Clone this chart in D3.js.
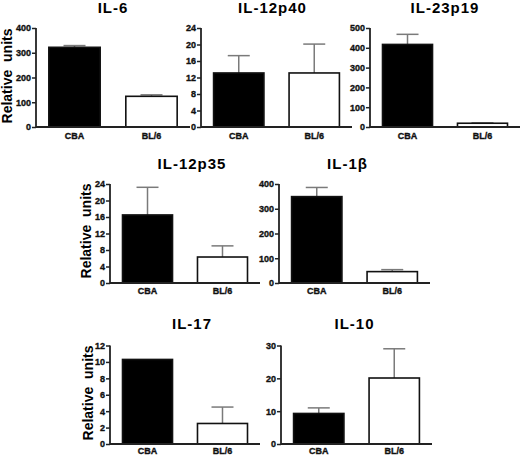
<!DOCTYPE html>
<html>
<head>
<meta charset="utf-8">
<script src="https://cdn.jsdelivr.net/npm/d3@7"></script>
<style>
	body { margin: 0; background: #fff; }
	svg { display: block; font-family: "Liberation Sans", Arial, sans-serif; }
	.title { font-size: 15px; font-weight: bold; letter-spacing: 1px; }
	.tick text { font-size: 9px; font-weight: bold; fill: #111; stroke: #111; stroke-width: 0.35px; }
	.ylabel { font-size: 14px; font-weight: bold; }
</style>
</head>
<body>
<svg id="chart" width="520" height="456"></svg>
<script>
// data
var groups = ["CBA", "BL/6"];
var titles = ["IL-6", "IL-12p40", "IL-23p19", "IL-12p35", "IL-1\u03b2", "IL-17", "IL-10"];
var cbaMean = [322, 13.1, 417, 16.5, 349, 10.3, 9.3];
var cbaErr = [7, 4.2, 51, 6.7, 37, 0, 1.7];
var bl6Mean = [124, 13.1, 19, 6.3, 46, 2.5, 20.1];
var bl6Err = [6, 7.0, 2, 2.7, 8, 2.0, 8.9];
var yMax = [400, 24, 500, 24, 400, 12, 30];
var yStep = [100, 4, 100, 4, 100, 2, 10];

// panel layout: axis left, plot width, top, bottom, gap under x axis
var panels = [
	{x: 36, w: 154, top: 28, bottom: 127, pad: 6},
	{x: 201, w: 151, top: 28, bottom: 127, pad: 6},
	{x: 370, w: 150, top: 28, bottom: 127, pad: 6},
	{x: 110, w: 150, top: 184, bottom: 283, pad: 5},
	{x: 279, w: 151, top: 184, bottom: 283, pad: 5},
	{x: 110, w: 150, top: 345.5, bottom: 444, pad: 3.5},
	{x: 281, w: 151, top: 345.5, bottom: 444, pad: 3.5}
];
var titleY = [12.5, 12.5, 12.5, 169, 169, 329, 329];
var titleDx = [0, -4, 0, 7, -7, 7, -2];
// rotated "Relative units" labels: one per row
var ylabels = [{x: 12, y: 76}, {x: 91, y: 231}, {x: 93, y: 393}];

var svg = d3.select("#chart");

for(var i = 0; i < panels.length; i++){
	var p = panels[i];
	var g = svg.append("g").attr("transform", "translate(" + p.x + ",0)");

	var x = d3.scaleBand().domain(groups).range([0, p.w]).paddingInner(0.333).paddingOuter(0.1667);
	var y = d3.scaleLinear().domain([0, yMax[i]]).range([p.bottom, p.top]);

	var means = [cbaMean[i], bl6Mean[i]];
	var errs = [cbaErr[i], bl6Err[i]];
	var rows = groups.map(function(k, j){ return {key: k, v: means[j], e: errs[j]}; });

	// error bars (upper only)
	var eb = g.selectAll(".err").data(rows.filter(function(d){ return d.e > 0; })).enter().append("g");
	eb.append("line")
		.attr("x1", function(d){ return x(d.key) + x.bandwidth() / 2; })
		.attr("x2", function(d){ return x(d.key) + x.bandwidth() / 2; })
		.attr("y1", function(d){ return y(d.v); })
		.attr("y2", function(d){ return y(d.v + d.e); })
		.attr("stroke", "#7a7a7a").attr("stroke-width", 1.5);
	eb.append("line")
		.attr("x1", function(d){ return x(d.key) + x.bandwidth() / 2 - 11; })
		.attr("x2", function(d){ return x(d.key) + x.bandwidth() / 2 + 11; })
		.attr("y1", function(d){ return y(d.v + d.e); })
		.attr("y2", function(d){ return y(d.v + d.e); })
		.attr("stroke", "#7a7a7a").attr("stroke-width", 1.5);

	g.selectAll(".bar").data(rows).enter().append("rect")
		.attr("x", function(d){ return x(d.key); })
		.attr("width", x.bandwidth())
		.attr("y", function(d){ return y(d.v); })
		.attr("height", function(d){ return y(0) - y(d.v); })
		.attr("fill", function(d, j){ return j === 0 ? "#000" : "#fff"; })
		.attr("stroke", "#111").attr("stroke-width", 1.6);

	var yAxis = d3.axisLeft(y).tickValues(d3.range(0, yMax[i] + yStep[i] / 2, yStep[i]))
		.tickSize(4).tickPadding(1).tickFormat(d3.format("d"));
	var ya = g.append("g").call(yAxis);
	ya.select(".domain").attr("stroke", "#222").attr("stroke-width", 1.8).attr("d", "M0," + p.top + "V" + p.bottom);
	ya.selectAll(".tick line").attr("stroke", "#222").attr("stroke-width", 1.5);

	var xAxis = d3.axisBottom(x).tickSize(0).tickPadding(p.pad);
	var xa = g.append("g").attr("transform", "translate(0," + p.bottom + ")").call(xAxis);
	xa.select(".domain").attr("stroke", "#222").attr("stroke-width", 1.8).attr("d", "M0,0H" + p.w);

	g.append("text").attr("class", "title")
		.attr("x", p.w / 2 + titleDx[i]).attr("y", titleY[i])
		.attr("text-anchor", "middle").text(titles[i]);
}

ylabels.forEach(function(l){
	svg.append("text").attr("class", "ylabel")
		.attr("transform", "translate(" + l.x + "," + l.y + ") rotate(-90)")
		.attr("text-anchor", "middle")
		.attr("xml:space", "preserve")
		.text("Relative  units");
});
</script>
</body>
</html>
